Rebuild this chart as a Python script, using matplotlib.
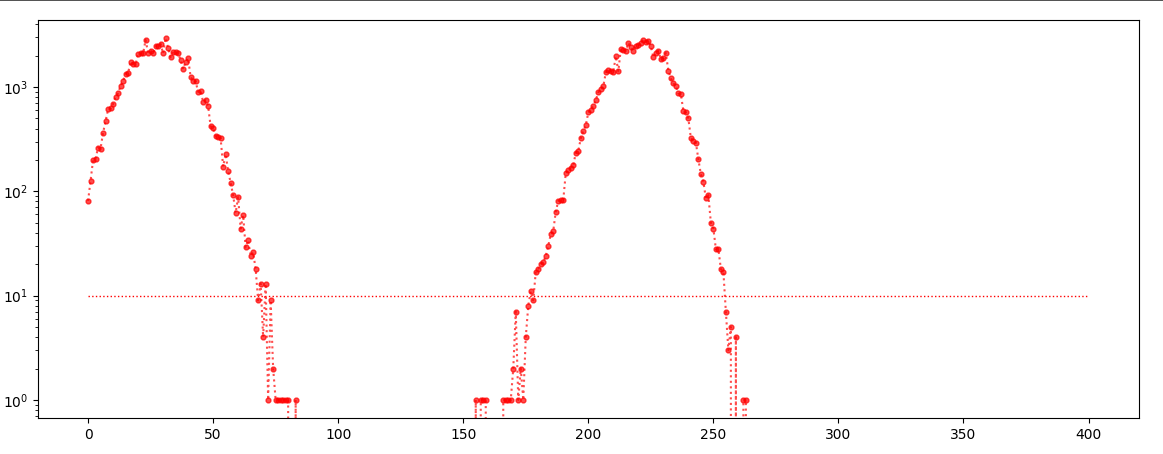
import numpy as np
import matplotlib
matplotlib.use("Agg")
import matplotlib.pyplot as plt
from matplotlib.lines import Line2D

# counts per bin, first peak (bins 0..84)
peak1 = [
    81, 126, 200, 205, 263, 257, 365, 473, 610, 624,
    686, 810, 870, 1030, 1145, 1330, 1360, 1750, 1675, 1660,
    2075, 2100, 2100, 2830, 2130, 2240, 2100, 2450, 2500, 2600,
    2100, 2950, 2370, 1930, 2190, 2150, 2100, 1820, 1490, 1740,
    1880, 1260, 1135, 1135, 900, 920, 720, 750, 660, 420,
    403, 340, 332, 324, 173, 227, 157, 121, 92, 62,
    88, 44, 59, 29, 34, 24, 26, 18, 9, 13,
    4, 13, 1, 9, 2, 1, 1, 1, 1, 1,
    1, 0, 0, 1, 0,
]

# empty bins 85..154
gap = [0] * 70

# second peak (bins 155..264)
peak2 = [
    1, 0, 1, 1, 1,
    0, 0, 0, 0, 0, 0,
    1, 1, 1, 1,
    2, 7, 1, 2, 1, 4, 8, 11, 9, 17,
    18, 20, 21, 24, 30, 39, 42, 64, 81, 82,
    83, 151, 160, 169, 178, 235, 244, 324, 380, 431,
    571, 605, 660, 750, 890, 957, 1016, 1380, 1466, 1435,
    1400, 1975, 1415, 2318, 2280, 2230, 2650, 2400, 2230, 2500,
    2520, 2650, 2850, 2720, 2790, 2460, 1930, 2120, 2230, 1860,
    1880, 2120, 1435, 1210, 1085, 1025, 870, 857, 591, 571,
    500, 324, 305, 294, 203, 146, 124, 86, 92, 50,
    44, 28, 28, 18, 17, 7, 3, 5, 0, 4,
    0, 0, 1, 1, 0,
]

counts = np.array(peak1 + gap + peak2, dtype=float)
bins = np.arange(len(counts))

threshold = 10
x_max = 400

fig = plt.figure(figsize=(11.63, 4.54), dpi=100)
ax = fig.add_axes([0.0327, 0.0793, 0.9463, 0.8767])

ax.plot(bins, counts, "r.:", linewidth=1.5, markersize=7, alpha=0.7)
ax.hlines(threshold, 0, x_max, colors="red", linestyles=":", linewidth=1)
ax.set_yscale("log")

# thin rule at the very top of the screenshot
fig.add_artist(Line2D([0, 1], [0.999, 0.999], color="#333333", linewidth=1.2))

plt.savefig("out.png", dpi=100)
